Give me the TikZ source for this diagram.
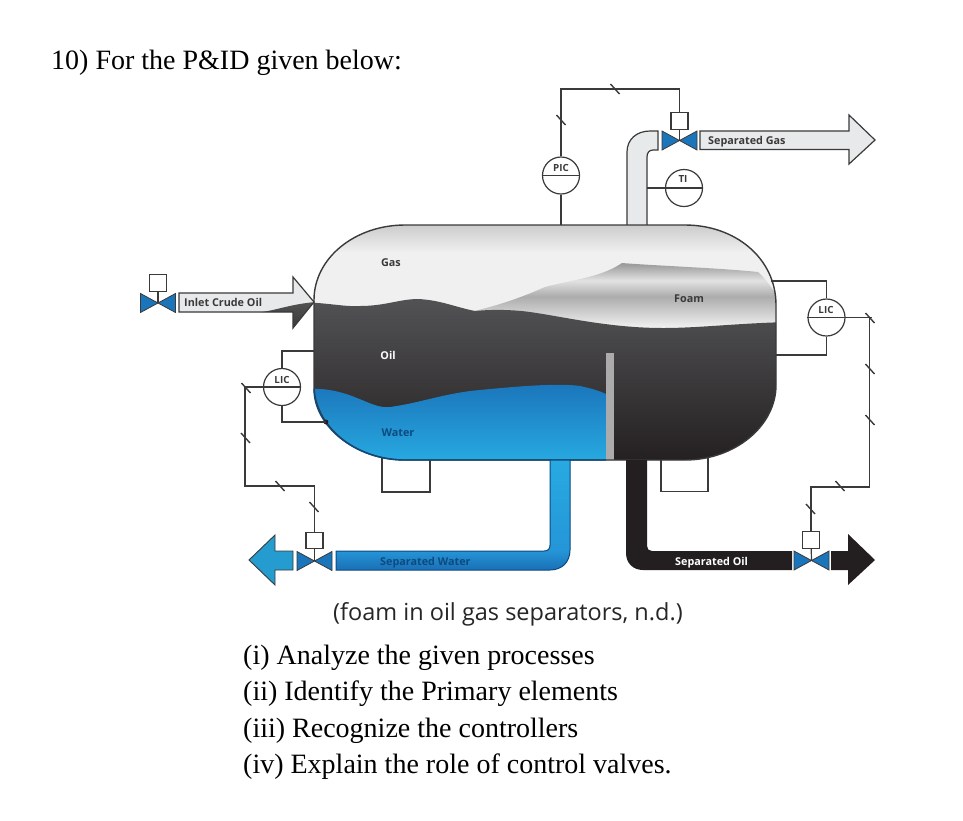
\documentclass[tikz,border=0pt]{standalone}
\usepackage{fontspec}
\setmainfont{Liberation Serif}
\newfontfamily\lblfont{Open Sans}
\definecolor{lineC}{HTML}{3A3A3A}
\definecolor{valveC}{HTML}{1B75BB}
\definecolor{waterLight}{HTML}{27AAE1}
\definecolor{waterMid}{HTML}{2596D8}
\definecolor{waterLow}{HTML}{1A6FB5}
\definecolor{pipeGrey}{HTML}{E8E9EA}
\definecolor{oilBlack}{HTML}{231F20}
\definecolor{oilTop}{HTML}{525254}
\definecolor{blueDark}{HTML}{0D4A80}
\definecolor{fA}{HTML}{F6F6F6}
\definecolor{fB}{HTML}{ACACAC}
\definecolor{fC}{HTML}{E2E2E2}
\definecolor{fD}{HTML}{9C9C9C}
\pgfdeclareverticalshading{foamshade}{100bp}{color(0bp)=(fA); color(25bp)=(fA); color(50bp)=(fB); color(62bp)=(fC); color(74bp)=(fD); color(100bp)=(fD)}
\pgfdeclareverticalshading{waterpipe}{100bp}{color(0bp)=(waterLow); color(25bp)=(waterLow); color(34bp)=(waterMid); color(75bp)=(waterLight); color(100bp)=(waterLight)}
\def\vesselpath{(405,225) -- (685,225) .. controls (735,225) and (776,258) .. (776,305) -- (776,385) .. controls (776,426) and (735,460) .. (685,460) -- (405,460) .. controls (355,460) and (314,426) .. (314,385) -- (314,300) .. controls (314,258) and (355,225) .. (405,225) -- cycle}
\begin{document}
\begin{tikzpicture}[x=1pt,y=-1pt,
  wire/.style={draw=lineC,line width=1.2pt},
  slash/.style={draw=lineC,line width=1.4pt},
  instr/.style={circle,draw=lineC,fill=white,line width=1.2pt,minimum size=37pt,inner sep=0pt},
  actuator/.style={rectangle,draw=lineC,fill=white,line width=1.2pt,minimum width=17pt,minimum height=16.5pt,inner sep=0pt},
  valvewing/.style={draw=lineC,fill=valveC,line width=0.8pt},
  pipeline/.style={draw=lineC,line width=1.2pt},
  tag/.style={inner sep=0pt,font=\lblfont\bfseries\fontsize{10.8}{12}\selectfont,text=lineC},
  instag/.style={inner sep=0pt,font=\lblfont\bfseries\fontsize{9.8}{12}\selectfont,text=lineC},
  serifline/.style={inner sep=0pt,anchor=base west,font=\fontsize{28}{32}\selectfont,text=black},
]
\useasboundingbox (0,0) rectangle (963,820);
\fill[white] (0,0) rectangle (963,820);

% supports
\draw[wire] (382,458) -- (382,492) -- (430,492) -- (430,458);
\draw[wire] (661,458) -- (661,491.5) -- (708,491.5) -- (708,458);

% gas pipe
\draw[pipeline,fill=pipeGrey] (627,226) -- (627,152) .. controls (627,139) and (637,131) .. (650,131) -- (658,131) -- (658,150) -- (653,150) .. controls (649,150) and (647,153) .. (647,157) -- (647,226) -- cycle;

% vessel contents
\begin{scope}
  \clip \vesselpath;
  \fill[black!6] (300,220) rectangle (790,340);
  \shade[top color=black!20,bottom color=black!6] (300,225) rectangle (790,252);
  \shade[shading=foamshade] (470,330) -- (470,312) .. controls (500,305) and (520,298) .. (545,287) .. controls (570,280) and (600,278) .. (622,263) .. controls (660,266) and (720,268) .. (758,272) .. controls (765,278) and (772,288) .. (780,300) -- (780,330) -- cycle;
  \shade[top color=oilTop,bottom color=oilBlack] (300,302) .. controls (330,303) and (345,307) .. (360,306) .. controls (385,306) and (400,299) .. (418,299) .. controls (440,300) and (455,307) .. (475,311) .. controls (495,309) and (515,310) .. (530,312) .. controls (565,317) and (610,328) .. (663,328) .. controls (700,328) and (740,323) .. (790,322) -- (790,465) -- (300,465) -- cycle;
  \shade[top color=valveC,bottom color=waterLight] (300,460) -- (300,389) .. controls (320,388) and (335,389) .. (357,398) .. controls (370,403) and (378,408) .. (390,407) .. controls (420,403) and (445,393) .. (480,390) .. controls (520,386) and (560,383) .. (580,386) .. controls (590,388) and (600,391) .. (606,394) -- (606,462) -- (300,462) -- cycle;
  \fill[black!33] (606,353) rectangle (614,462);
\end{scope}
\draw[draw=lineC,line width=1.4pt] \vesselpath;
\draw[draw=blueDark,line width=1.4pt] (606,460) -- (405,460) .. controls (355,460) and (314,426) .. (314,389);

% vessel connection points
\coordinate (vesselPICtap) at (561,225);
\coordinate (pipeTItap) at (647,188);
\coordinate (vesselRtop) at (771,281);
\coordinate (vesselRbot) at (776,355);
\coordinate (vesselLtop) at (314,351);
\coordinate (vesselLbot) at (326,422);
\fill[oilBlack] (vesselLbot) circle (2.4);

% inlet arrow
\path[save path=\inletpath] (179,293) -- (293,293) -- (293,277) -- (314,302) -- (293,328) -- (293,312) -- (179,312) -- cycle;
\fill[pipeGrey,use path=\inletpath];
\begin{scope}
  \clip[use path=\inletpath];
  \shade[top color=black!68,bottom color=black!78] (255,313) .. controls (275,311) and (290,304) .. (316,302) -- (316,330) -- (255,330) -- cycle;
\end{scope}
\draw[pipeline,use path=\inletpath];

% separated gas arrow
\draw[pipeline,fill=pipeGrey] (700,131) -- (849,131) -- (849,115) -- (875,140) -- (849,164) -- (849,149.5) -- (700,149.5) -- cycle;

% water pipe
\path[shading=waterpipe,draw=blueDark,line width=1pt] (550,460) -- (550,545) .. controls (550,549) and (548,551) .. (544,551) -- (336,551) -- (336,570) -- (550,570) .. controls (562,570) and (570,562) .. (570,550) -- (570,460) -- cycle;
% water arrow
\fill[waterLight!92!black,draw=lineC,line width=0.9pt] (293,551) -- (275,551) -- (275,535) -- (249,560) -- (275,585) -- (275,570) -- (293,570) -- cycle;

% oil pipe
\fill[oilBlack] (626,460) -- (626,553) .. controls (626,563) and (633,570) .. (643,570) -- (792,570) -- (792,551) -- (652,551) .. controls (649,551) and (647,549) .. (647,546) -- (647,460) -- cycle;
% oil arrow
\fill[oilBlack] (831,551) -- (848,551) -- (848,534) -- (875,560) -- (848,585) -- (848,570) -- (831,570) -- cycle;

% valves
\foreach \nm/\cx/\cy in {vInlet/158/303, vGas/679.5/140.5, vWater/314.5/561, vOil/811.5/560.5}{
  \coordinate (\nm) at (\cx,\cy);
  \draw[valvewing] (\cx-17.5,\cy-9.5) -- (\cx,\cy) -- (\cx-17.5,\cy+9.5) -- cycle;
  \draw[valvewing] (\cx+17.5,\cy-9.5) -- (\cx,\cy) -- (\cx+17.5,\cy+9.5) -- cycle;
}
\node[actuator] (aInlet) at (158,283) {};
\node[actuator] (aGas) at (679.5,121) {};
\node[actuator] (aWater) at (314.5,540.5) {};
\node[actuator] (aOil) at (811,540) {};
\draw[wire] (aInlet) -- (vInlet);
\draw[wire] (aGas) -- (vGas);
\draw[wire] (aWater) -- (vWater);
\draw[wire] (aOil) -- (vOil);

% instruments
\node[instr] (pic) at (561,175.5) {};
\node[instr] (ti) at (684,188) {};
\node[instr] (licR) at (826.5,317.5) {};
\node[instr] (licL) at (282,387) {};
\foreach \i in {pic,ti,licR,licL}{\draw[wire] (\i.west) -- (\i.east);}
\node[instag] (tPIC) at (561,167.5) {PIC};
\node[instag] (tTI) at (683,179) {TI};
\node[instag] (tLICR) at (826,310) {LIC};
\node[instag] (tLICL) at (282,379.5) {LIC};

% signal lines
\draw[wire] (pic.south) -- (vesselPICtap);
\draw[wire] (pic.north) |- (679.5,89) -- (aGas.north);
\draw[wire] (ti.west) -- (pipeTItap);
\draw[wire] (licR.north) |- (vesselRtop);
\draw[wire] (licR.south) |- (vesselRbot);
\draw[wire] (licR.east) -- (872,317.5);
\draw[wire] (869.5,317.5) -- (869.5,487) -- (811,487) -- (aOil.north);
\draw[wire] (licL.north) |- (vesselLtop);
\draw[wire] (licL.south) |- (vesselLbot);
\draw[wire] (licL.west) -- (244,387);
\draw[wire] (245,387) -- (245,486) -- (314.5,486) -- (aWater.north);

% slash marks
\foreach \x/\y in {561/120, 615/89, 870/318, 870/369, 870/420, 840/486, 810.5/509, 246/388, 245.5/438, 280/486, 314/507}{
  \draw[slash] (\x-4.5,\y-5) -- (\x+4.5,\y+5);
}

% labels
\node[tag,anchor=base west] (lInlet) at (184,306) {Inlet Crude Oil};
\node[tag,anchor=base west] (lSepGas) at (708,144) {Separated Gas};
\node[tag,anchor=base] (lGas) at (391,266) {Gas};
\node[tag,anchor=base] (lFoam) at (689,302) {Foam};
\node[tag,anchor=base,text=white] (lOil) at (388,359) {Oil};
\node[tag,anchor=base,text=blueDark] (lWater) at (398,436) {Water};
\node[tag,anchor=base west,text=blueDark] (lSepWater) at (380,565) {Separated Water};
\node[tag,anchor=base west,text=white] (lSepOil) at (675,565) {Separated Oil};

% page text
\node[serifline] (title) at (51,69) {10) For the P\&ID given below:};
\node[inner sep=0pt,anchor=base west,font=\lblfont\fontsize{23.5}{26}\selectfont,text=black!85] (cite) at (333,620) {(foam in oil gas separators, n.d.)};
\node[serifline] (q1) at (243,664) {(i) Analyze the given processes};
\node[serifline] (q2) at (243,700) {(ii) Identify the Primary elements};
\node[serifline] (q3) at (243,737) {(iii) Recognize the controllers};
\node[serifline] (q4) at (243,773) {(iv) Explain the role of control valves.};
\end{tikzpicture}
\end{document}
